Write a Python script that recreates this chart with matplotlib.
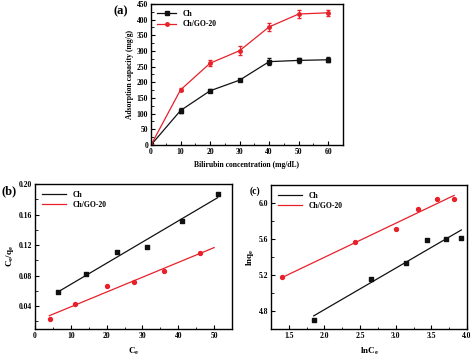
import matplotlib
matplotlib.use("Agg")
import matplotlib.pyplot as plt
import numpy as np
from matplotlib.lines import Line2D
from matplotlib.ticker import AutoMinorLocator

plt.rcParams["font.family"] = ["Liberation Serif", "DejaVu Serif"]
plt.rcParams["font.weight"] = "bold"
plt.rcParams["axes.labelweight"] = "bold"
plt.rcParams["mathtext.fontset"] = "custom"
plt.rcParams["mathtext.rm"] = "Liberation Serif:bold"
plt.rcParams["mathtext.it"] = "Liberation Serif:bold"

BLACK = "#111111"
RED = "#e8202a"

# (a) adsorption capacity vs bilirubin concentration
conc = [0, 10, 20, 30, 40, 50, 60]
q_ch = [0, 110, 173, 207, 266, 270, 272]
q_ch_err = [0, 8, 5, 4, 12, 8, 8]
q_go = [0, 176, 261, 301, 377, 418, 422]
q_go_err = [0, 5, 10, 15, 12, 12, 10]

# (b) Langmuir: Ce/qe vs Ce
ce_ch = [6.3, 14.3, 23.0, 31.2, 41.0, 51.0]
ceqe_ch = [0.058, 0.082, 0.111, 0.117, 0.152, 0.187]
fit_b_ch = [6.3, 51.0]
ce_go = [4.1, 11.3, 20.0, 27.5, 36.0, 46.0]
ceqe_go = [0.023, 0.043, 0.066, 0.072, 0.086, 0.109]
fit_b_go = [4.0, 50.0]

# (c) Freundlich: ln qe vs ln Ce
lnce_ch = [1.85, 2.65, 3.14, 3.44, 3.71, 3.92]
lnqe_ch = [4.70, 5.155, 5.335, 5.585, 5.60, 5.61]
fit_c_ch = [1.85, 3.92]
lnce_go = [1.40, 2.43, 3.00, 3.31, 3.58, 3.82]
lnqe_go = [5.175, 5.565, 5.71, 5.935, 6.04, 6.05]
fit_c_go = [1.40, 3.82]

fig = plt.figure(figsize=(4.74, 3.56), dpi=100)
W, H = 474, 356


def add_ax(l, t, r, b):
    return fig.add_axes([l / W, 1 - b / H, (r - l) / W, (b - t) / H])


def style(ax):
    ax.tick_params(which="both", direction="in", labelsize=5.5, pad=2)
    ax.tick_params(which="major", length=3, width=0.8)
    ax.tick_params(which="minor", length=1.8, width=0.6)
    ax.xaxis.set_minor_locator(AutoMinorLocator(2))
    ax.yaxis.set_minor_locator(AutoMinorLocator(2))
    for s in ax.spines.values():
        s.set_linewidth(1.0)
    for lbl in ax.get_xticklabels() + ax.get_yticklabels():
        lbl.set_fontweight("bold")


def fit_line(ax, x, y, xr, color):
    k, b0 = np.polyfit(x, y, 1)
    xr = np.array(xr)
    ax.plot(xr, k * xr + b0, color=color, lw=0.9)


# panel (a)
ax = add_ax(151, 4, 343, 145)
ax.errorbar(conc, q_ch, yerr=q_ch_err, color=BLACK, marker="s", ms=2.5, lw=0.9,
            capsize=1.5, elinewidth=0.7)
ax.errorbar(conc, q_go, yerr=q_go_err, color=RED, marker="o", ms=2.5, lw=0.9,
            capsize=1.5, elinewidth=0.7)
handles = [Line2D([], [], color=BLACK, marker="s", ms=2.5, lw=0.9),
           Line2D([], [], color=RED, marker="o", ms=2.5, lw=0.9)]
ax.legend(handles, ["Ch", "Ch/GO-20"], loc="upper left", fontsize=5.5,
          frameon=False, handlelength=2.5, borderaxespad=0.4, labelspacing=0.3)
ax.set_xlim(0, 65)
ax.set_ylim(0, 450)
ax.set_xticks(range(0, 61, 10))
ax.set_yticks(range(0, 451, 50))
ax.set_xlabel("Bilirubin concentration (mg/dL)", fontsize=5.5, labelpad=4)
ax.set_ylabel("Adsorption capacity (mg/g)", fontsize=5.5, labelpad=2)
style(ax)
fig.text(113 / W, 1 - 11 / H, "(a)", fontsize=9, fontweight="bold", va="center")

# panel (b)
ax = add_ax(35, 184, 232, 329)
ax.scatter(ce_ch, ceqe_ch, marker="s", s=8, color=BLACK, zorder=3)
ax.scatter(ce_go, ceqe_go, marker="o", s=8, color=RED, zorder=3)
fit_line(ax, ce_ch, ceqe_ch, fit_b_ch, BLACK)
fit_line(ax, ce_go, ceqe_go, fit_b_go, RED)
ax.plot([], [], color=BLACK, lw=0.9, label="Ch")
ax.plot([], [], color=RED, lw=0.9, label="Ch/GO-20")
ax.set_xlim(0, 55)
ax.set_ylim(0.01, 0.20)
ax.set_xticks(range(0, 51, 10))
ax.set_yticks([0.04, 0.08, 0.12, 0.16, 0.20])
ax.set_yticklabels(["0.04", "0.08", "0.12", "0.16", "0.20"])
ax.set_xlabel(r"C$_{\mathrm{e}}$", fontsize=6.5, labelpad=4)
ax.set_ylabel(r"C$_{\mathrm{e}}$/q$_{\mathrm{e}}$", fontsize=6.5, labelpad=2)
ax.legend(loc="upper left", fontsize=5.5, frameon=False, handlelength=3.2,
          borderaxespad=0.5, labelspacing=0.3)
style(ax)
fig.text(1 / W, 1 - 191 / H, "(b)", fontsize=9, fontweight="bold", va="center")

# panel (c)
ax = add_ax(271, 185, 467, 329)
ax.scatter(lnce_ch, lnqe_ch, marker="s", s=8, color=BLACK, zorder=3)
ax.scatter(lnce_go, lnqe_go, marker="o", s=8, color=RED, zorder=3)
fit_line(ax, lnce_ch, lnqe_ch, fit_c_ch, BLACK)
fit_line(ax, lnce_go, lnqe_go, fit_c_go, RED)
ax.plot([], [], color=BLACK, lw=0.9, label="Ch")
ax.plot([], [], color=RED, lw=0.9, label="Ch/GO-20")
ax.set_xlim(1.25, 4.0)
ax.set_ylim(4.6, 6.2)
ax.set_xticks([1.5, 2.0, 2.5, 3.0, 3.5, 4.0])
ax.set_yticks([4.8, 5.2, 5.6, 6.0])
ax.set_xlabel(r"lnC$_{\mathrm{e}}$", fontsize=6.5, labelpad=4)
ax.set_ylabel(r"lnq$_{\mathrm{e}}$", fontsize=6.5, labelpad=2)
ax.legend(loc="upper left", fontsize=5.5, frameon=False, handlelength=3.2,
          borderaxespad=0.5, labelspacing=0.3)
style(ax)
fig.text(250 / W, 1 - 191 / H, "(c)", fontsize=7, fontweight="bold", va="center")

fig.savefig("out.png", dpi=100)
